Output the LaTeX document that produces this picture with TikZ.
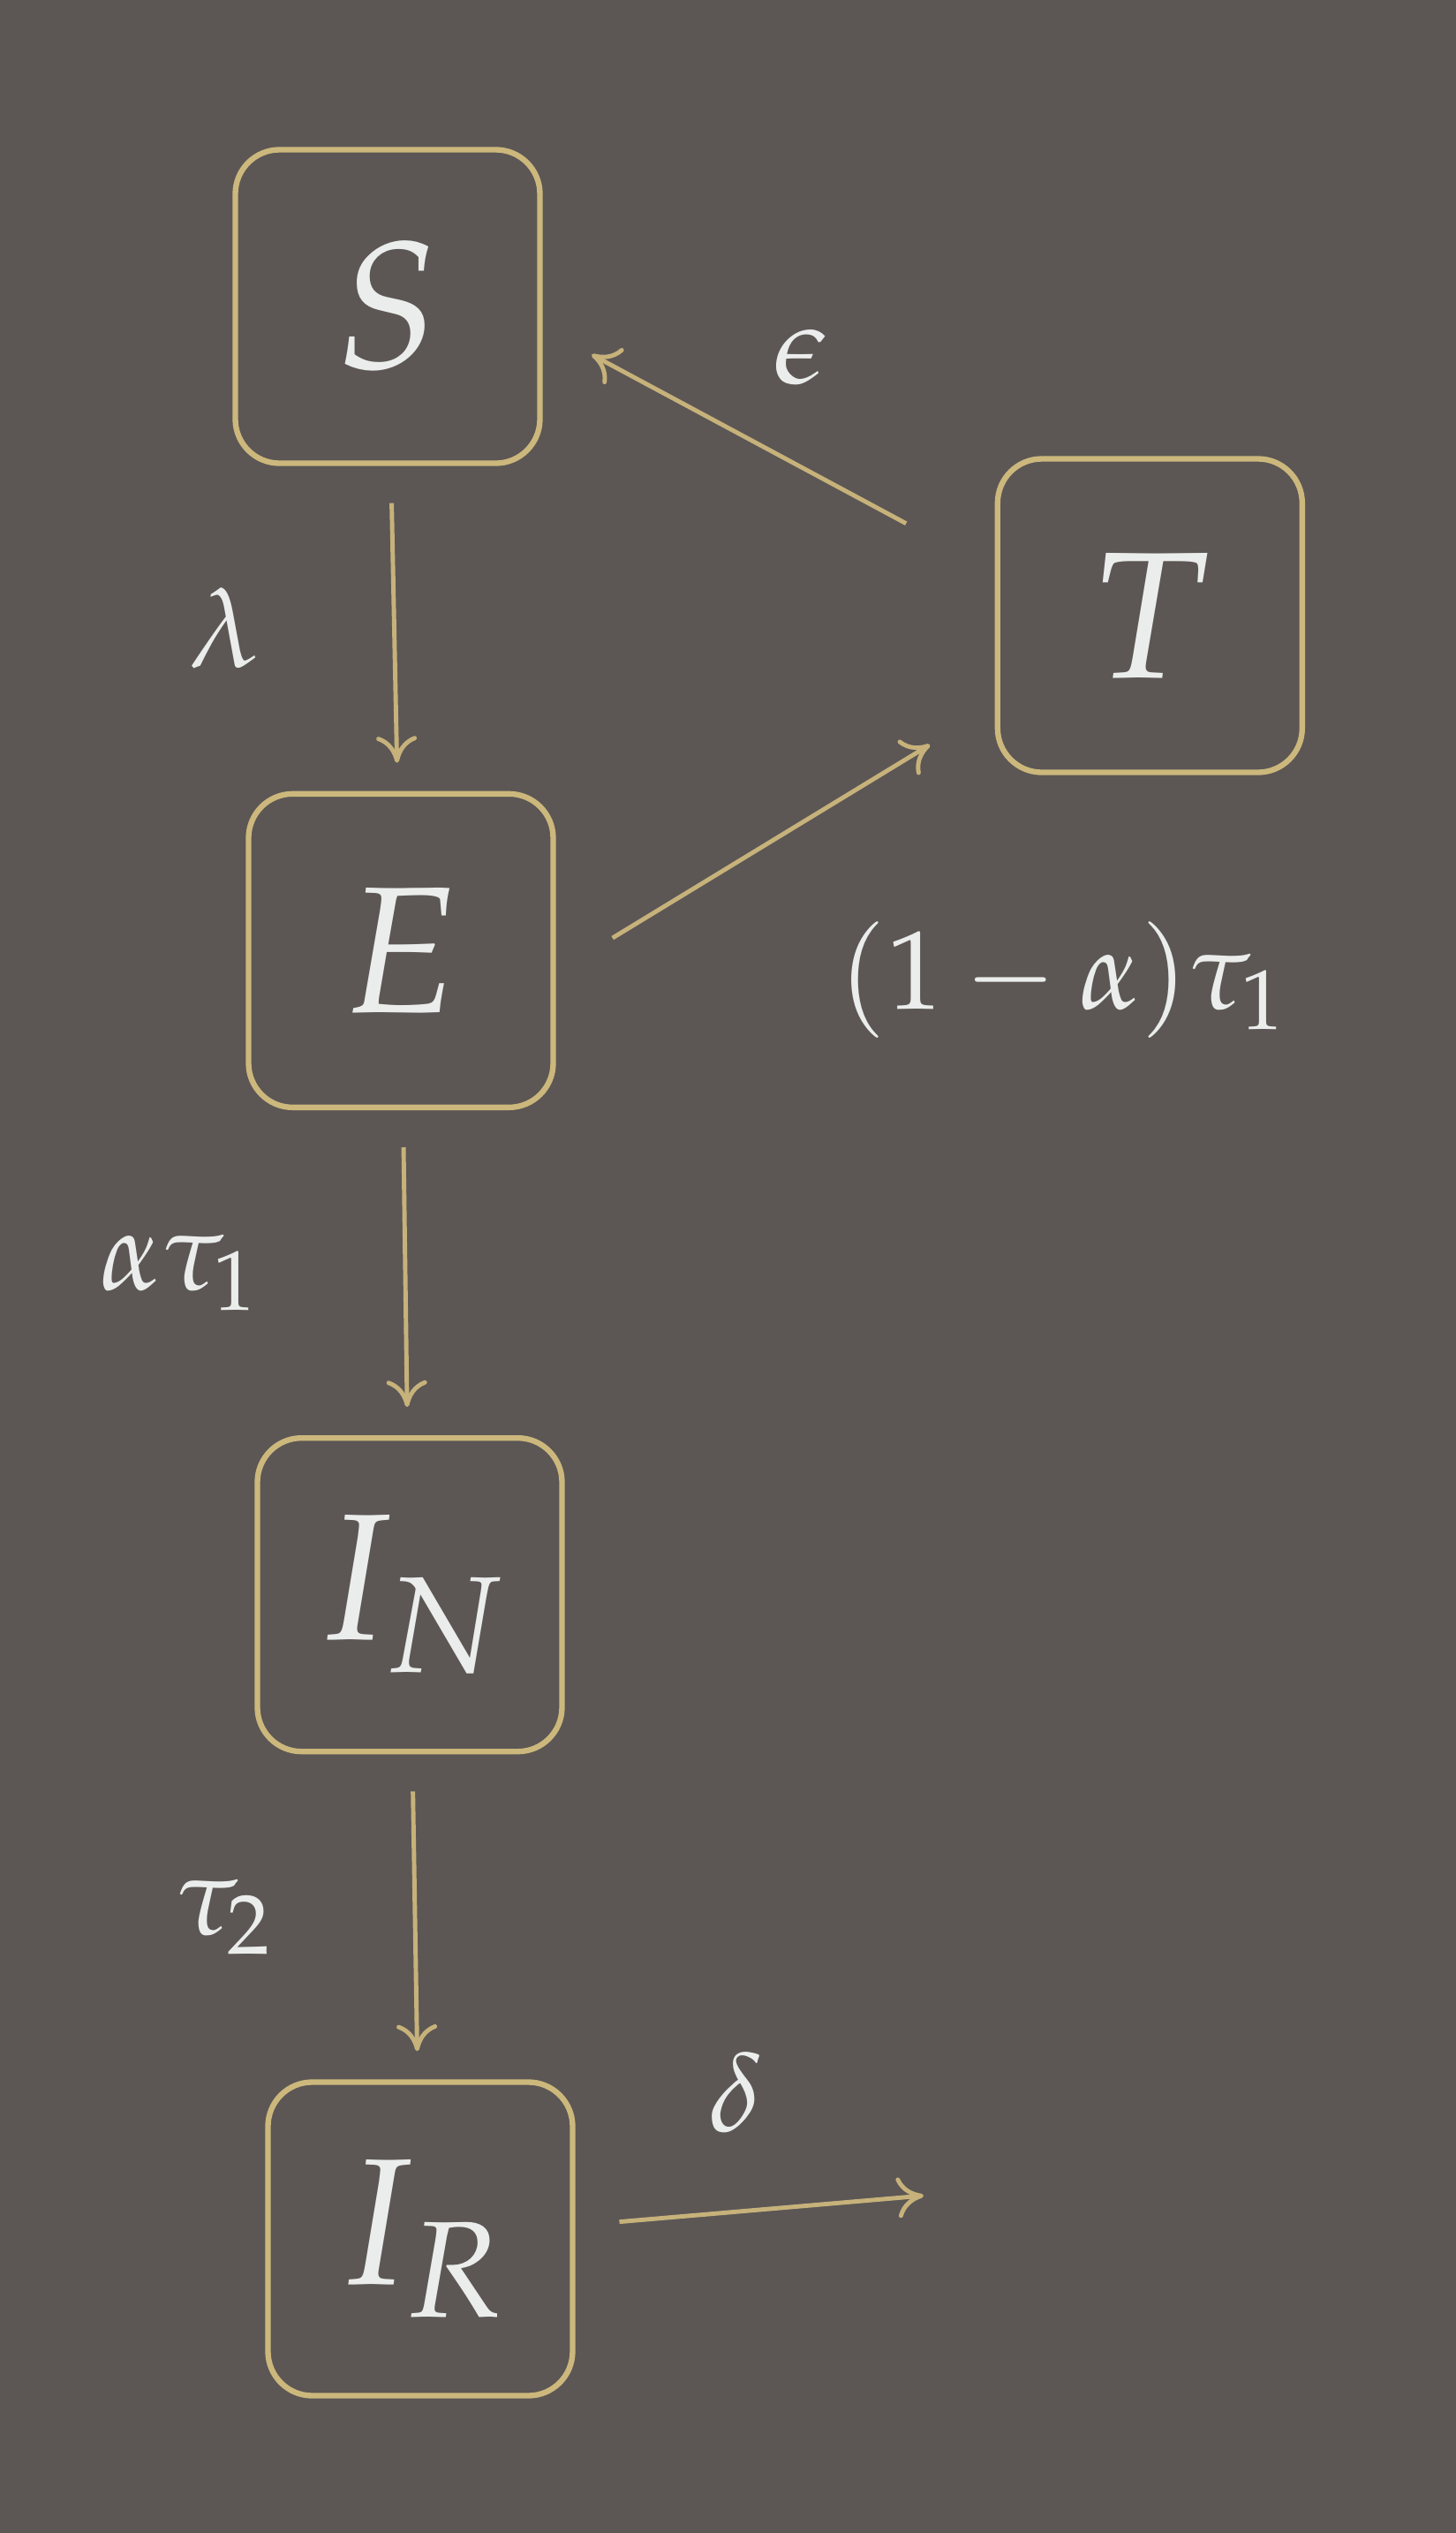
\documentclass[tikz,border=0pt]{standalone}
\usepackage{mathpazo}
\usepackage{xcolor}
\usetikzlibrary{positioning,arrows.meta}

\definecolor{bgcol}{RGB}{92,87,85}
\definecolor{boxcol}{RGB}{204,184,124}
\definecolor{arrcol}{RGB}{198,178,122}
\definecolor{txtcol}{RGB}{234,237,235}

\begin{document}
\begin{tikzpicture}[node distance=3.68cm,
    compbox/.style={draw=boxcol, line width=1.8pt, rounded corners=0.5cm, minimum width=3.45cm, minimum height=3.55cm, text=txtcol, font=\fontsize{58}{70}\selectfont},
    rate/.style={text=txtcol, inner sep=0pt, font=\fontsize{36}{43}\selectfont},
    flow/.style={draw=arrcol, line width=1.4pt, -{Computer Modern Rightarrow[length=3mm,width=4.6mm]}, shorten <=0.42cm, shorten >=0.32cm}]
    \fill[bgcol] (0,0) rectangle (16.49,-28.68);
    \useasboundingbox (0,0) rectangle (16.49,-28.68);

    \node (S) [compbox] at (4.39,-3.47) {$S$};
    \node (T) [compbox, right=5.12cm of S, yshift=-3.5cm] {$T$};
    \node (E) [compbox, below=of S, xshift=0.15cm] {$E$};
    \node (IN) [compbox, below=of E, xshift=0.1cm] {$I_N$};
    \node (IR) [compbox, below=of IN, xshift=0.12cm] {$I_R$};
    \coordinate (out) at (10.46,-24.86);

    \draw [flow] (S) -- node[rate, midway, left=1.5cm] (lam) {$\lambda$} (E);
    \draw [flow] (E) -- node[rate, midway, left=1.65cm] (atau) {$\alpha\tau_1$} (IN);
    \draw [flow] (IN) -- node[rate, midway, left=1.6cm] (tau2) {$\tau_2$} (IR);
    \draw [flow, shorten <=1.14cm, shorten >=0.63cm] (T.164) -- node[rate, pos=0.43, above=0.9cm] (eps) {$\epsilon$} (S.-8);
    \draw [flow, shorten <=0.75cm, shorten >=0.86cm] (E.-8) -- (T.210);
    \node (onetau) [rate, below=1.65cm of T, xshift=-1cm] {$(1-\alpha)\tau_1$};
    \draw [flow, shorten <=0.5cm, shorten >=0pt] (IR) -- node[rate, pos=0.46, above=0.87cm] (del) {$\delta$} (out);

\end{tikzpicture}
\end{document}
